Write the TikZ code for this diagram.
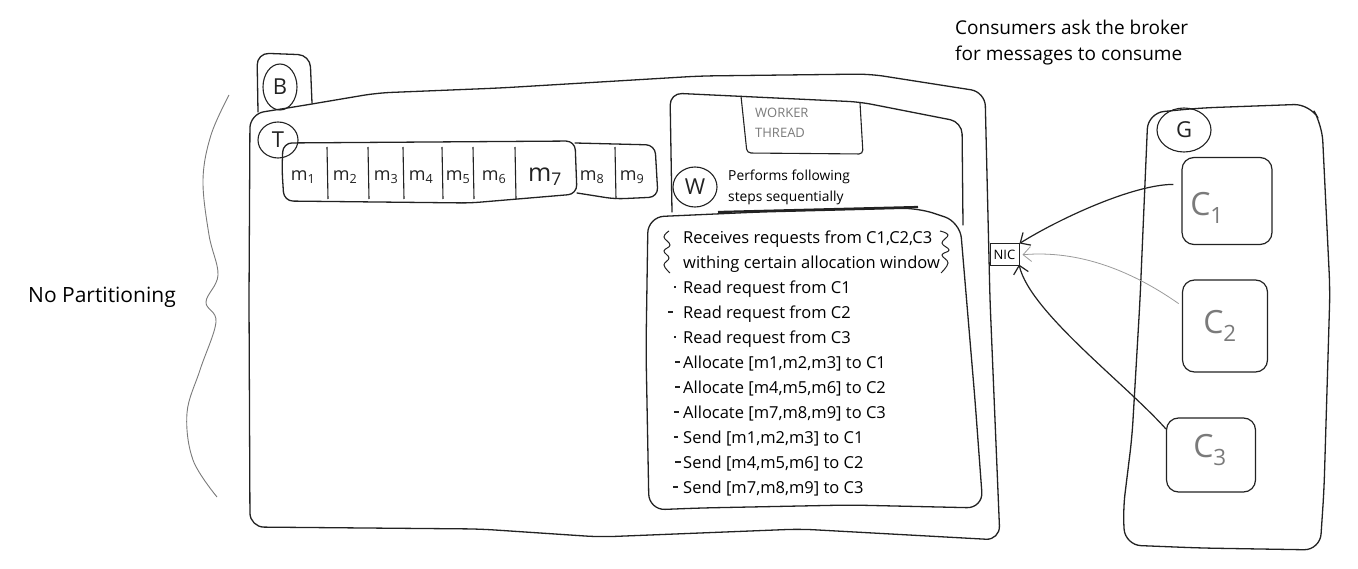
\documentclass[tikz,border=0pt]{standalone}
\usepackage{fontspec}
\setmainfont{Open Sans}
\usetikzlibrary{shapes.geometric, arrows.meta}
\definecolor{InkColor}{HTML}{222222}
\definecolor{PencilGray}{HTML}{7A7A7A}
\definecolor{FaintGray}{HTML}{9A9A9A}
\tikzstyle{sketch_box}=[draw=InkColor,
                        line width=1.3pt,
                        line join=round,
                        line cap=round,
                        rounded corners=14pt, ]
\tikzstyle{tag_circle}=[ellipse,
                        draw=InkColor,
                        line width=1.1pt,
                        inner sep=0pt,
                        text=InkColor,
                        font=\fontsize{22}{22}\selectfont, ]
\tikzstyle{consumer_box}=[rectangle,
                          draw=InkColor,
                          line width=1.2pt,
                          rounded corners=12pt, ]
\tikzstyle{hand_label}=[inner sep=0pt,
                        text=PencilGray,
                        font=\fontsize{32}{32}\selectfont, ]
\tikzstyle{msg_label}=[inner sep=0pt,
                       text=InkColor, ]
\tikzstyle{step_line}=[anchor=west,
                       inner sep=0pt,
                       font=\fontsize{16.5}{20}\selectfont, ]
\tikzstyle{ask_arrow}=[-{Straight Barb[length=8pt, width=15pt]},
                       line width=1.2pt,
                       draw=InkColor, ]

\begin{document}
\begin{tikzpicture}[x=1pt, y=-1pt]
    \useasboundingbox (0,0) rectangle (1358,569);

    \node at (28,297) (no_partition) [anchor=west, inner sep=0pt, font=\fontsize{21}{24}\selectfont] {No Partitioning};
    \draw[draw=PencilGray, line width=0.9pt] plot[smooth, tension=0.6] coordinates {(229,95) (211,135) (203,180) (209,235) (218,275) (206,302) (216,322) (200,370) (187,413) (193,460) (217,497)};

    \draw[sketch_box, rounded corners=12pt] (258,112) -- (257,53) -- (310,55) -- (312,103);
    \draw[sketch_box] (249,300) -- (250,114) -- (300,106) -- (377,93) -- (500,88) -- (700,76) -- (870,74) -- (985,92) -- (990,300) -- (1000,540) -- (800,529) -- (600,537) -- (480,529) -- (250,527) -- cycle;
    \node at (280,87) (broker_tag) [tag_circle, minimum width=34pt, minimum height=46pt] {B};
    \node at (278,140) (topic_tag) [tag_circle, minimum width=40pt, minimum height=36pt] {T};

    \draw[sketch_box, rounded corners=9pt] (282,170) -- (283,143) -- (575,141) -- (577,194) -- (470,203) -- (284,201) -- cycle;
    \draw[sketch_box, rounded corners=9pt] (575,143) -- (655,145) -- (658,197) -- (615,199) -- (577,193);
    \foreach \x in {327,368,403,442,473,515,615} {
      \draw[line width=1.1pt, draw=InkColor] (\x,147) -- (\x+1,199);
    }
    \foreach \i/\x/\s in {1/303/18, 2/345/18, 3/386/18, 4/421/18, 5/458/18, 6/494/18, 7/545/25, 8/592/18, 9/632/18} {
      \node at (\x,177) (msg_\i) [msg_label, font=\fontsize{\s}{\s}\selectfont] {m\textsubscript{\i}};
    }

    \draw[sketch_box, rounded corners=12pt] (672,212) -- (670,93) -- (860,102) -- (962,122) -- (963,225);
    \draw[line width=1.1pt, draw=InkColor, rounded corners=4pt] (741,96) -- (747,153) -- (863,154) -- (860,103);
    \node at (755,123) (worker_title) [anchor=west, align=left, inner sep=0pt, text=PencilGray, font=\fontsize{13}{20}\selectfont] {WORKER\\THREAD};
    \node at (695,187) (worker_tag) [tag_circle, minimum width=44pt, minimum height=40pt] {W};
    \node at (728,187) (performs_text) [anchor=west, align=left, inner sep=0pt, font=\fontsize{13.8}{21}\selectfont] {Performs following\\steps sequentially};

    \draw[sketch_box, rounded corners=16pt] (646,350) -- (648,217) -- (760,212) -- (918,208) -- (960,222) -- (975,400) -- (983,508) -- (850,505) -- (700,508) -- (649,510) -- cycle;
    \draw[line width=2.2pt, draw=InkColor] (718,212) -- (918,207);

    \foreach \n/\txt in {0/{Receives requests from C1,C2,C3},
                         1/{withing certain allocation window},
                         2/{Read request from C1},
                         3/{Read request from C2},
                         4/{Read request from C3},
                         5/{Allocate [m1,m2,m3] to C1},
                         6/{Allocate [m4,m5,m6] to C2},
                         7/{Allocate [m7,m8,m9] to C3},
                         8/{Send [m1,m2,m3] to C1},
                         9/{Send [m4,m5,m6] to C2},
                         10/{Send [m7,m8,m9] to C3} } {
      \node at (683,239+25*\n) (step_\n) [step_line] {\txt};
    }
    \foreach \n/\a/\b in {2/674/676, 3/668/673, 4/674/676, 5/675/680, 6/675/680,
                          7/674/679, 8/674/678, 9/675/681, 10/673/678} {
      \draw[line width=1.8pt, draw=InkColor] (\a,237+25*\n) -- (\b,237+25*\n);
    }
    \draw[line width=1pt, draw=InkColor] plot[smooth, tension=0.7] coordinates {(669,231) (664,237) (670,245) (664,251) (669,258) (664,265) (670,273)};
    \draw[line width=1pt, draw=InkColor] plot[smooth, tension=0.7] coordinates {(940,231) (948,235) (942,243) (949,250) (942,255) (948,263) (941,273)};

    \node at (1004.5,255) (nic) [rectangle, draw=InkColor, line width=1pt, minimum width=29pt, minimum height=22pt, inner sep=0pt, font=\fontsize{13}{13}\selectfont] {NIC};

    \node at (955,43) (ask_text) [anchor=west, align=left, inner sep=0pt, font=\fontsize{19}{26}\selectfont] {Consumers ask the broker\\for messages to consume};

    \draw[sketch_box, rounded corners=16pt] (1140,300) -- (1148,113) -- (1200,108) -- (1310,104) -- (1322,125) -- (1330,290) -- (1324,490) -- (1320,550) -- (1200,548) -- (1125,545) -- (1123,510) -- (1132,437) -- cycle;
    \node at (1184,130) (group_tag) [tag_circle, minimum width=54pt, minimum height=44pt] {G};

    \node at (1227,201) (c1_box) [consumer_box, minimum width=90pt, minimum height=87pt] {};
    \node at (1225,326) (c2_box) [consumer_box, minimum width=85pt, minimum height=92pt] {};
    \node at (1211,455) (c3_box) [consumer_box, minimum width=89pt, minimum height=74pt] {};
    \node at (1207,208) (c1_label) [hand_label] {C\textsubscript{1}};
    \node at (1220,326) (c2_label) [hand_label] {C\textsubscript{2}};
    \node at (1210,450) (c3_label) [hand_label] {C\textsubscript{3}};

    \draw[ask_arrow, shorten <=8pt] (c1_box.160) .. controls +(-48,0) and +(40,-25) .. (nic.north east);
    \draw[ask_arrow, draw=FaintGray, line width=0.8pt, shorten <=4pt, shorten >=3pt] (c2_box.155) .. controls +(-50,-35) and +(60,-5) .. (nic.east);
    \draw[ask_arrow, shorten >=-2pt] (c3_box.150) .. controls +(-40,-45) and +(10,45) .. (nic.south east);
\end{tikzpicture}
\end{document}
